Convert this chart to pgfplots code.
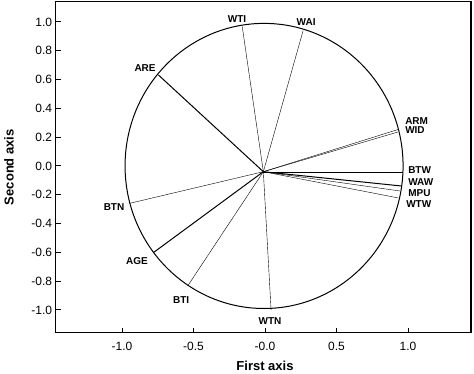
\documentclass[border=0pt]{standalone}
\usepackage{pgfplots}
\pgfplotsset{compat=1.18}
\usepackage{fontspec}
\setmainfont{Liberation Sans}
\begin{document}
\begin{tikzpicture}
\begin{axis}[name=ax, scale only axis, width=415.3pt, height=331.2pt,
  xmin=-1.464, xmax=1.44, ymin=-1.158, ymax=1.142,
  axis line style={line width=1.6pt},
  xtick={-1,-0.5,0,0.5,1}, xticklabels={-1.0,-0.5,-0.0,0.5,1.0},
  ytick={-1,-0.8,-0.6,-0.4,-0.2,0,0.2,0.4,0.6,0.8,1},
  yticklabels={-1.0,-0.8,-0.6,-0.4,-0.2,0.0,0.2,0.4,0.6,0.8,1.0},
  tick align=inside, xtick pos=bottom, ytick pos=left,
  major tick length=5pt, tick style={line width=0.9pt, black},
  ticklabel style={font=\fontsize{12}{12}\selectfont},
  xticklabel style={yshift=-6pt},
  xlabel={First axis}, ylabel={Second axis},
  xlabel style={at={(axis description cs:0.504,-0.114)}, anchor=base, font=\bfseries\fontsize{13}{13}\selectfont},
  ylabel style={at={(axis description cs:-0.1011,0.5)}, anchor=base, font=\bfseries\fontsize{13}{13}\selectfont},
  clip=false,
  cycle list={{black, solid, line width=1pt, mark=none}},
]
% circle of correlations
\draw[line width=1pt] (axis cs:-0.007,0) ellipse [x radius=0.972, y radius=0.99];
% vectors from the origin
\addplot coordinates {(-0.012,-0.04) (-0.16,0.97)};   % WTI
\addplot coordinates {(-0.012,-0.04) (0.266,0.94)};   % WAI
\addplot coordinates {(-0.012,-0.04) (-0.746,0.632)}; % ARE
\addplot coordinates {(-0.012,-0.04) (0.933,0.254)};  % ARM
\addplot coordinates {(-0.012,-0.04) (0.93,0.236)};   % WID
\addplot coordinates {(-0.012,-0.04) (0.963,-0.04)};  % BTW
\addplot coordinates {(-0.012,-0.04) (0.951,-0.139)}; % WAW
\addplot coordinates {(-0.012,-0.04) (0.944,-0.174)}; % MPU
\addplot coordinates {(-0.012,-0.04) (0.93,-0.222)};  % WTW
\addplot coordinates {(-0.012,-0.04) (-0.944,-0.259)};% BTN
\addplot coordinates {(-0.012,-0.04) (-0.781,-0.602)};% AGE
\addplot coordinates {(-0.012,-0.04) (-0.541,-0.833)};% BTI
\addplot coordinates {(-0.012,-0.04) (0.042,-1.0)};   % WTN
% labels
\begin{scope}[every node/.style={font=\bfseries\fontsize{10}{10}\selectfont, inner sep=0pt}]
\node at (axis cs:-0.196,1.021) {WTI};
\node at (axis cs:0.287,1.0) {WAI};
\node at (axis cs:-0.839,0.681) {ARE};
\node at (axis cs:-1.056,-0.285) {BTN};
\node at (axis cs:-0.895,-0.66) {AGE};
\node at (axis cs:-0.587,-0.931) {BTI};
\node at (axis cs:0.035,-1.076) {WTN};
\node[anchor=west] at (axis cs:0.979,0.312) {ARM};
\node[anchor=west] at (axis cs:0.979,0.246) {WID};
\node[anchor=west] at (axis cs:1.0,-0.028) {BTW};
\node[anchor=west] at (axis cs:1.0,-0.111) {WAW};
\node[anchor=west] at (axis cs:1.0,-0.188) {MPU};
\node[anchor=west] at (axis cs:0.986,-0.264) {WTW};
\end{scope}
\end{axis}
\pgfresetboundingbox
\path[use as bounding box] (ax.south west) ++(-55.7pt,-41.3pt) rectangle ++(474pt,374pt);
\end{tikzpicture}
\end{document}
